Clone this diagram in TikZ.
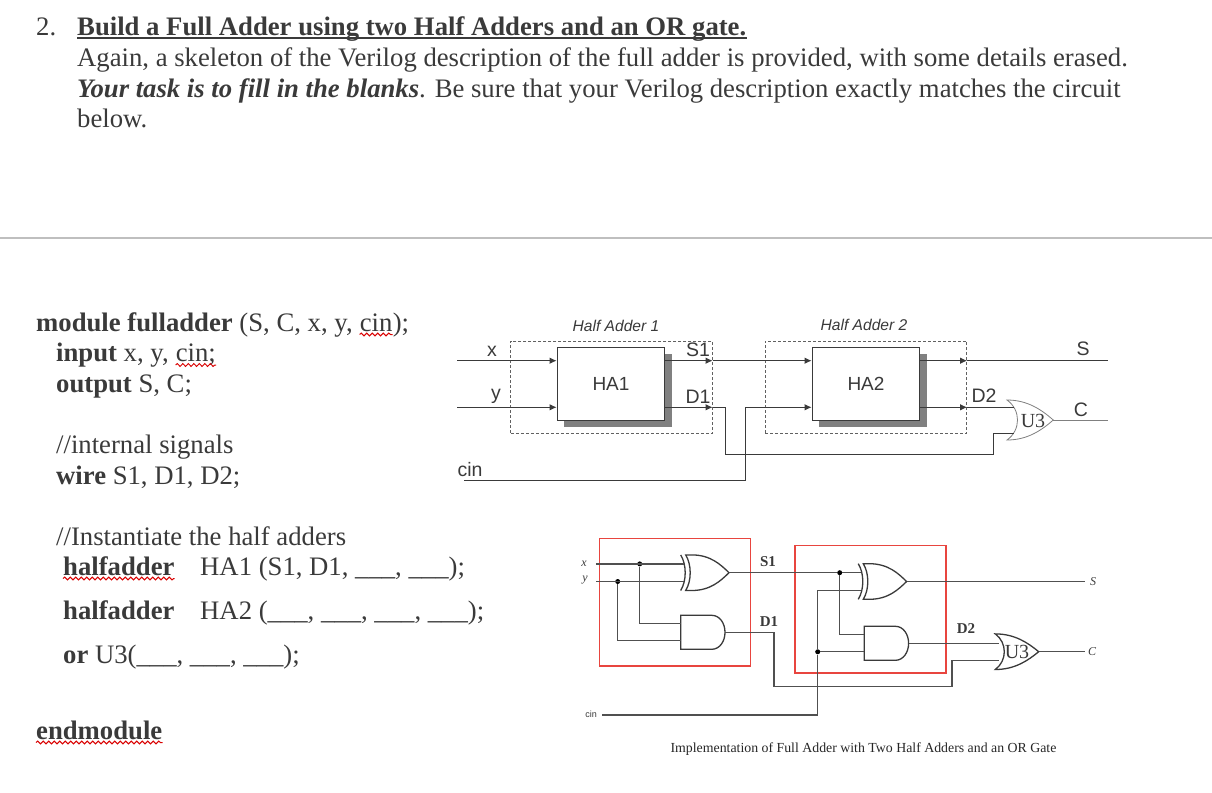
\documentclass[tikz,border=0pt]{standalone}
\usepackage{amsmath}
\usepackage{xcolor}
\usepackage{fontspec}
\setmainfont{Liberation Serif}
\newfontfamily\labelfont{Liberation Sans}
\usepackage{tikz}
\usetikzlibrary{positioning,arrows.meta,shadows,decorations.pathmorphing}
\definecolor{ink}{HTML}{3A3A3A}
\definecolor{gateink}{HTML}{505050}
\definecolor{boxred}{HTML}{E8453F}
\tikzset{
  txt/.style={anchor=base west,inner sep=0pt,text=ink,font=\fontsize{26.7}{26.7}\selectfont},
  lbl/.style={inner sep=0pt,text=ink,font=\labelfont\fontsize{19.5}{19.5}\selectfont},
  lbltwo/.style={inner sep=0pt,text=ink,font=\bfseries\fontsize{15}{15}\selectfont},
  lblthree/.style={inner sep=0pt,text=ink,font=\itshape\fontsize{12}{12}\selectfont},
  captxt/.style={font=\labelfont\itshape\fontsize{15.6}{15.6}\selectfont,text=ink,inner sep=0pt},
  wire/.style={draw=ink,line width=1pt},
  wiretwo/.style={draw=gateink,line width=1.3pt},
  gatepen/.style={draw=ink,line width=1.3pt},
  into/.style={wire,-{Latex[length=7pt,width=6.5pt]}},
  habox/.style={draw=ink,fill=white,line width=1pt,minimum width=107.7pt,minimum height=73.4pt,
    drop shadow={shadow xshift=6.7pt,shadow yshift=-6.7pt,fill=gray,opacity=1},
    inner sep=0pt,text=ink,font=\labelfont\fontsize{19}{19}\selectfont},
  dashbox/.style={draw=ink!80,densely dashed,line width=0.9pt,minimum width=201.4pt,minimum height=92.7pt,inner sep=0pt},
  redbox/.style={draw=boxred,line width=1.3pt,minimum width=151pt,minimum height=127.5pt,inner sep=0pt},
  dot/.style={circle,fill=black,inner sep=0pt,minimum size=5pt},
  squig/.style={draw=red!85!black,line width=1pt,decorate,decoration={snake,segment length=5.5pt,amplitude=1.4pt}},
  pics/xorgate/.style={code={
    \draw[pic actions] (0,-17.8) -- (6,-17.8) .. controls (25,-17.8) and (35,-8) .. (43.3,0)
      .. controls (35,8) and (25,17.8) .. (6,17.8) -- (0,17.8)
      .. controls (6,8) and (6,-8) .. (0,-17.8) -- cycle;
    \draw[pic actions] (-5,-17.8) .. controls (1,-8) and (1,8) .. (-5,17.8);
    \coordinate (-a) at (-2,-8.8);
    \coordinate (-b) at (-2,8.8);
    \coordinate (-o) at (43.3,0);
  }},
  pics/andgate/.style={code={
    \draw[pic actions] (0,-17) -- (31,-17) .. controls (39,-17) and (44.3,-9) .. (44.3,0)
      .. controls (44.3,9) and (39,17) .. (31,17) -- (0,17) -- cycle;
    \coordinate (-a) at (0,-8.5);
    \coordinate (-b) at (0,8.5);
    \coordinate (-o) at (44.3,0);
  }},
  pics/orgate/.style n args={3}{code={
    \draw[pic actions] (0,-#1) .. controls (0.45*#2,-#1) and (0.75*#2,-0.5*#1) .. (#2,0)
      .. controls (0.75*#2,0.5*#1) and (0.45*#2,#1) .. (0,#1)
      .. controls (#3,0.5*#1) and (#3,-0.5*#1) .. (0,-#1) -- cycle;
    \coordinate (-o) at (#2,0);
  }},
}

\begin{document}
\begin{tikzpicture}[x=1pt,y=-1pt]
\useasboundingbox (0,0) rectangle (1212,792);

% question text
\node[txt] (num) at (36,36) {2.};
\node[txt] (qone) at (77,36) {\textbf{Build a Full Adder using two Half Adders and an OR gate.}};
\node[txt] (qtwo) at (77,66.5) {Again, a skeleton of the Verilog description of the full adder is provided, with some details erased.};
\node[txt] (qthree) at (77,97) {\textbf{\textit{Your task is to fill in the blanks}}. Be sure that your Verilog description exactly matches the circuit};
\node[txt] (qfour) at (77,127.5) {below.};
\draw[ink,line width=1.3pt] ([yshift=-2pt]qone.base west) -- ([yshift=-2pt]qone.base east);
\node[minimum width=1212pt,minimum height=1.5pt,inner sep=0pt,fill=gray!50] (rule) at (606,238) {};

% module text
\node[txt] (modname) at (36,331) {\textbf{module fulladder} (S, C, x, y,};
\node[txt,base right=6.7pt of modname] (modcin) {cin};
\node[txt,base right=0pt of modcin] (modend) {);};
\node[txt] (inp) at (56,361.5) {\textbf{input} x, y,};
\node[txt,base right=6.7pt of inp] (inpcin) {cin;};
\node[txt] (outp) at (56,392.5) {\textbf{output} S, C;};
\node[txt] (cmtone) at (56,453) {//internal signals};
\node[txt] (wires) at (56,484) {\textbf{wire} S1, D1, D2;};
\node[txt] (cmttwo) at (56,545) {//Instantiate the half adders};
\node[txt] (hadd) at (63,575) {\textbf{halfadder}};
\node[txt] (haone) at (200,575) {HA1 (S1, D1, \_\_\_, \_\_\_);};
\node[txt] (haddtwo) at (63,619) {\textbf{halfadder}};
\node[txt] (hatwo) at (200,619) {HA2 (\_\_\_, \_\_\_, \_\_\_, \_\_\_);};
\node[txt] (orname) at (63,663) {\textbf{or} U3(\_\_\_, \_\_\_, \_\_\_);};
\node[txt] (endmod) at (36,739) {\textbf{endmodule}};
\draw[squig] ([yshift=-3.5pt]modcin.base west) -- ([yshift=-3.5pt]modcin.base east);
\draw[squig] ([yshift=-3.5pt]inpcin.base west) -- ([yshift=-3.5pt]inpcin.base east);
\draw[squig] ([yshift=-3.5pt]hadd.base west) -- ([yshift=-3.5pt]hadd.base east);
\draw[squig] ([yshift=-3.5pt]endmod.base west) -- ([yshift=-3.5pt]endmod.base east);

% block diagram
\node[dashbox] (dashone) at (611.5,387.3) {};
\node[dashbox] (dashtwo) at (866,387.3) {};
\node[habox] (HAone) at (611,384) {HA1};
\node[habox] (HAtwo) at (866,384) {HA2};
\node[captxt] (capone) at (616,326) {Half Adder 1};
\node[captxt] (captwo) at (864,325) {Half Adder 2};
\coordinate (xin) at (457,360.7);
\coordinate (yin) at (457,407.3);
\coordinate (cinin) at (464,480.3);
\coordinate (cinup) at (745.7,407.3);
\coordinate (Sout) at (1108,360.7);
\coordinate (Cout) at (1108,420);
\coordinate (aone) at (HAone.west |- xin);
\coordinate (bone) at (HAone.west |- yin);
\coordinate (sone) at (HAone.east |- xin);
\coordinate (done) at (HAone.east |- yin);
\coordinate (atwo) at (HAtwo.west |- xin);
\coordinate (btwo) at (HAtwo.west |- yin);
\coordinate (stwo) at (HAtwo.east |- xin);
\coordinate (dtwo) at (HAtwo.east |- yin);
\coordinate (sonetip) at (dashone.east |- xin);
\coordinate (donetip) at (dashone.east |- yin);
\coordinate (stwotip) at (dashtwo.east |- xin);
\coordinate (dtwotip) at (dashtwo.east |- yin);
\coordinate (dtwoend) at (1014,407.3);
\coordinate (dturn) at (725.3,454.3);
\coordinate (dup) at (993.3,433.7);
\coordinate (dend) at (1013.5,433.7);
\pic[draw=gray,fill=white,line width=0.8pt] (orone) at (1007,420) {orgate={20}{46.3}{14}};
\draw[into] (xin) -- (aone);
\draw[into] (yin) -- (bone);
\draw[into] (sone) -- (sonetip);
\draw[into] (done) -- (donetip);
\draw[into] (sonetip) -- (atwo);
\draw[into] (stwo) -- (stwotip);
\draw[into] (dtwo) -- (dtwotip);
\draw[wire] (stwotip) -- (Sout);
\draw[wire] (dtwotip) -- (dtwoend);
\draw[wire] (donetip) -| (dturn) -| (dup) -- (dend);
\draw[wire] (cinin) -| (cinup);
\draw[into] (cinup) -- (btwo);
\draw[wire,draw=gray] (orone-o) -- (Cout);
\node[lbl] (xlab) at (492,351) {x};
\node[lbl] (ylab) at (496,396) {y};
\node[lbl] (cinlab) at (470,470) {cin};
\node[lbl] (sonelab) at (698,350) {S1};
\node[lbl] (donelab) at (698,397) {D1};
\node[lbl] (dtwolab) at (984,396) {D2};
\node[lbl] (slab) at (1083,349) {S};
\node[lbl] (clab) at (1081,410) {C};
\node[inner sep=0pt,text=ink,font=\fontsize{20}{20}\selectfont] (uonelab) at (1033,420.5) {U3};

% gate diagram
\node[redbox] (redone) at (674.8,602.2) {};
\node[redbox] (redtwo) at (870.6,609.3) {};
\pic[gatepen] (xorone) at (685.7,572.7) {xorgate};
\pic[gatepen] (andone) at (680.7,632.3) {andgate};
\pic[gatepen] (xortwo) at (863.3,581.5) {xorgate};
\pic[gatepen] (andtwo) at (864.3,643.3) {andgate};
\pic[gatepen] (ortwo) at (995.3,651.7) {orgate={17.8}{43.4}{12}};
\coordinate (xg) at (596,563.9);
\coordinate (yg) at (596,581.5);
\coordinate (cing) at (602.3,715);
\coordinate (sg) at (1085,581.5);
\coordinate (cg) at (1085,651.7);
\coordinate (dturntwo) at (774,686.7);
\coordinate (orlow) at (952,660.3);
\coordinate (orlowend) at (999,660.3);
\coordinate (orhighend) at (999,643.3);
\node[dot] (xdot) at (639.7,563.9) {};
\node[dot] (ydot) at (617.7,581.5) {};
\node[dot] (sdot) at (839.7,572.7) {};
\node[dot] (cdot) at (817.7,651.8) {};
\draw[wiretwo] (xg) -- (xorone-a);
\draw[wiretwo] (yg) -- (xorone-b);
\draw[wiretwo] (xdot) |- (andone-a);
\draw[wiretwo] (ydot) |- (andone-b);
\draw[wiretwo] (xorone-o) -- (sdot) -- (xortwo-a);
\draw[wiretwo] (sdot) |- (andtwo-a);
\draw[wiretwo] (cing) -| (cdot);
\draw[wiretwo] (cdot) |- (xortwo-b);
\draw[wiretwo] (cdot) -- (andtwo-b);
\draw[wiretwo] (xortwo-o) -- (sg);
\draw[wiretwo] (andone-o) -| (dturntwo) -| (orlow) -- (orlowend);
\draw[wiretwo] (andtwo-o) -- (orhighend);
\draw[wiretwo] (ortwo-o) -- (cg);
\node[lbltwo] (sonegl) at (768,562) {S1};
\node[lbltwo] (donegl) at (769,622) {D1};
\node[lbltwo] (dtwogl) at (966,629) {D2};
\node[inner sep=0pt,text=ink,font=\fontsize{20}{20}\selectfont] (utwolab) at (1017,652) {U3};
\node[lblthree] (xgl) at (584,564) {x};
\node[lblthree] (ygl) at (585,580) {y};
\node[lblthree] (sgl) at (1093,582) {S};
\node[lblthree] (cgl) at (1092,652) {C};
\node[inner sep=0pt,text=ink,font=\labelfont\fontsize{9}{9}\selectfont] (cingl) at (591,714) {cin};
\node[inner sep=0pt,text=black!85,font=\fontsize{13.83}{13.83}\selectfont] (capgl) at (863.5,749.5) {Implementation of Full Adder with Two Half Adders and an OR Gate};
\end{tikzpicture}
\end{document}
